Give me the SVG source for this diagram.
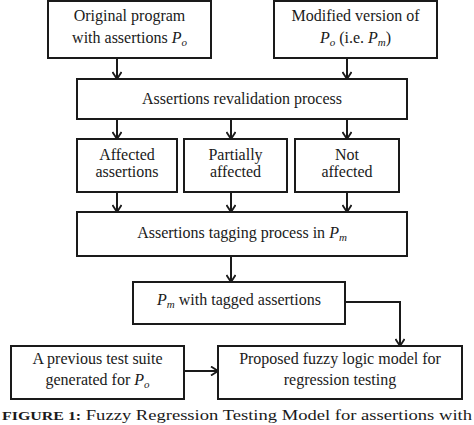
<svg xmlns="http://www.w3.org/2000/svg" width="474" height="425" viewBox="0 0 474 425">
<style>
.b{fill:#fff;stroke:#1a1a1a;stroke-width:2}
.t{font-family:"Liberation Serif","DejaVu Serif",serif;font-size:16px;fill:#1a1a1a;text-anchor:middle}
.i{font-style:italic}
.s{font-size:11px;font-style:italic}
.c{stroke:#1a1a1a;stroke-width:2;fill:none}
</style>
<defs>
<marker id="ah" viewBox="0 0 10 10" refX="9" refY="5" markerWidth="10" markerHeight="10" markerUnits="userSpaceOnUse" orient="auto">
<path d="M2,0.5 L9,5 L2,9.5" fill="none" stroke="#1a1a1a" stroke-width="1.8"/>
</marker>
</defs>
<rect width="474" height="425" fill="#fff"/>
<g id="connectors" class="c">
<path d="M117,58 V79" marker-end="url(#ah)"/>
<path d="M347,58 V79" marker-end="url(#ah)"/>
<path d="M117,119 V139" marker-end="url(#ah)"/>
<path d="M231,119 V139" marker-end="url(#ah)"/>
<path d="M347,119 V139" marker-end="url(#ah)"/>
<path d="M117,192 V212" marker-end="url(#ah)"/>
<path d="M231,192 V212" marker-end="url(#ah)"/>
<path d="M347,192 V212" marker-end="url(#ah)"/>
<path d="M231,256 V282" marker-end="url(#ah)"/>
<path d="M345,302 H400 V346" marker-end="url(#ah)"/>
<path d="M184,371 H218" marker-end="url(#ah)"/>
</g>
<g id="original">
<rect class="b" x="48" y="1" width="163" height="57"/>
<text class="t" x="129.5" y="21">Original program</text>
<text class="t" x="129.5" y="43">with assertions <tspan class="i">P</tspan><tspan class="s" dy="3">o</tspan></text>
</g>
<g id="modified">
<rect class="b" x="274" y="1" width="163" height="57"/>
<text class="t" x="355.5" y="21">Modified version of</text>
<text class="t" x="355.5" y="43"><tspan class="i">P</tspan><tspan class="s" dy="3">o</tspan><tspan dy="-3"> (i.e. </tspan><tspan class="i">P</tspan><tspan class="s" dy="3">m</tspan><tspan dy="-3">)</tspan></text>
</g>
<g id="revalidation">
<rect class="b" x="77" y="79" width="330" height="40"/>
<text class="t" x="242" y="104">Assertions revalidation process</text>
</g>
<g id="affected">
<rect class="b" x="77" y="139" width="100" height="53"/>
<text class="t" x="127" y="160">Affected</text>
<text class="t" x="127" y="177">assertions</text>
</g>
<g id="partially">
<rect class="b" x="184" y="139" width="103" height="53"/>
<text class="t" x="235.5" y="160">Partially</text>
<text class="t" x="235.5" y="177">affected</text>
</g>
<g id="notaffected">
<rect class="b" x="295" y="139" width="104" height="53"/>
<text class="t" x="347" y="160">Not</text>
<text class="t" x="347" y="177">affected</text>
</g>
<g id="tagging">
<rect class="b" x="77" y="212" width="330" height="44"/>
<text class="t" x="242" y="238">Assertions tagging process in <tspan class="i">P</tspan><tspan class="s" dy="3">m</tspan></text>
</g>
<g id="tagged">
<rect class="b" x="133" y="282" width="212" height="42"/>
<text class="t" x="239" y="305"><tspan class="i">P</tspan><tspan class="s" dy="3">m</tspan><tspan dy="-3"> with tagged assertions</tspan></text>
</g>
<g id="previous">
<rect class="b" x="11" y="346" width="173" height="53"/>
<text class="t" x="97.5" y="364">A previous test suite</text>
<text class="t" x="97.5" y="385">generated for <tspan class="i">P</tspan><tspan class="s" dy="3">o</tspan></text>
</g>
<g id="fuzzy">
<rect class="b" x="218" y="346" width="244" height="53"/>
<text class="t" x="340" y="364">Proposed fuzzy logic model for</text>
<text class="t" x="340" y="385">regression testing</text>
</g>
<text x="2" y="420" font-family="Liberation Serif, serif" font-size="14" fill="#1a1a1a" textLength="470" lengthAdjust="spacingAndGlyphs"><tspan font-weight="bold" font-size="12">FIGURE 1:</tspan> Fuzzy Regression Testing Model for assertions with</text>
</svg>
